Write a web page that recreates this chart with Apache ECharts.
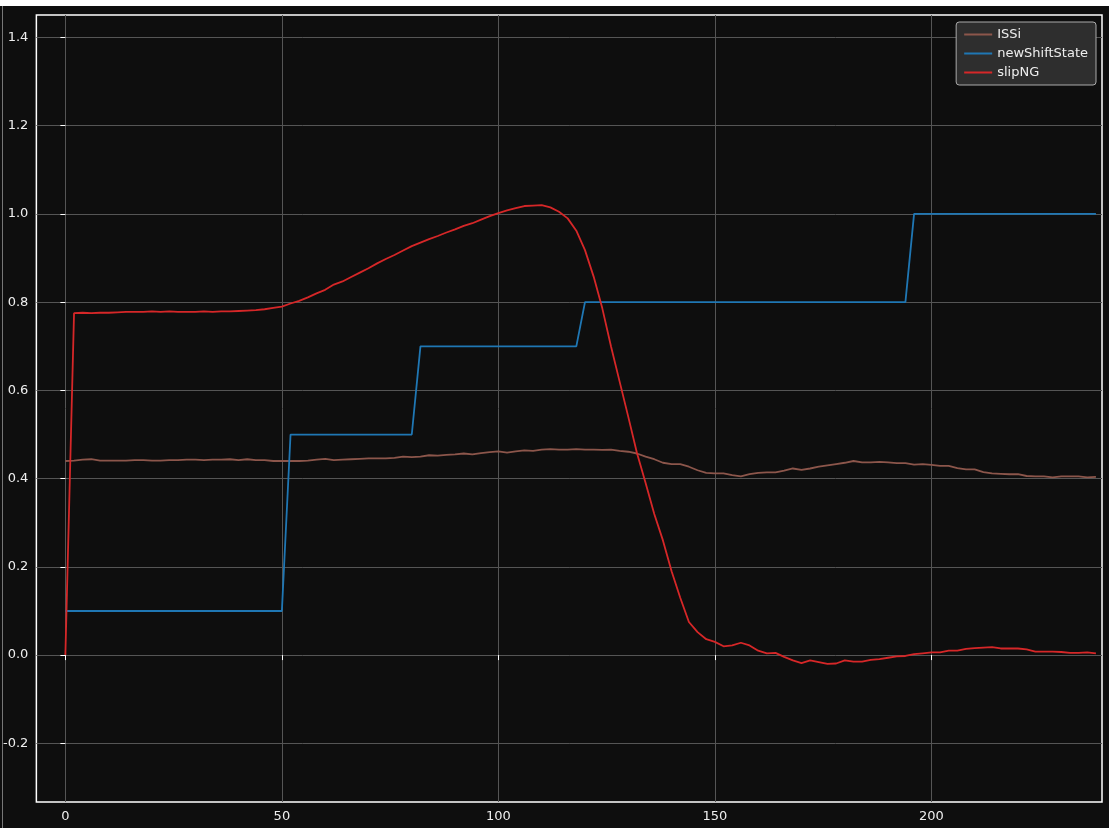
<!DOCTYPE html>
<html><head><meta charset="utf-8">
<script src="https://cdn.jsdelivr.net/npm/echarts@6/dist/echarts.min.js"></script>
<style>
html,body{margin:0;padding:0;background:#0e0e0e;width:1109px;height:828px;overflow:hidden}
#top{position:absolute;left:0;top:0;width:1109px;height:6px;background:#fff}
#side{position:absolute;left:2px;top:6px;width:1px;height:822px;background:#777}
#c{position:absolute;left:0;top:0;width:1109px;height:828px}
</style></head><body>
<div id="c"></div><div id="top"></div><div id="side"></div>
<script>
const xs=[0,2,4,6,8,10,12,14,16,18,20,22,24,26,28,30,32,34,36,38,40,42,44,46,48,50,52,54,56,58,60,62,64,66,68,70,72,74,76,78,80,82,84,86,88,90,92,94,96,98,100,102,104,106,108,110,112,114,116,118,120,122,124,126,128,130,132,134,136,138,140,142,144,146,148,150,152,154,156,158,160,162,164,166,168,170,172,174,176,178,180,182,184,186,188,190,192,194,196,198,200,202,204,206,208,210,212,214,216,218,220,222,224,226,228,230,232,234,236,238];
const issi=[0.440,0.441,0.443,0.444,0.441,0.441,0.441,0.441,0.442,0.442,0.441,0.441,0.442,0.442,0.443,0.443,0.442,0.443,0.443,0.444,0.442,0.444,0.442,0.442,0.440,0.440,0.440,0.440,0.441,0.443,0.445,0.442,0.443,0.444,0.445,0.446,0.446,0.446,0.447,0.450,0.449,0.450,0.453,0.452,0.454,0.455,0.457,0.455,0.458,0.460,0.462,0.459,0.462,0.464,0.463,0.466,0.467,0.466,0.466,0.467,0.466,0.466,0.465,0.466,0.463,0.461,0.457,0.450,0.444,0.436,0.433,0.433,0.427,0.419,0.413,0.412,0.412,0.408,0.405,0.410,0.413,0.414,0.414,0.418,0.423,0.420,0.423,0.427,0.430,0.433,0.436,0.440,0.437,0.437,0.438,0.437,0.435,0.435,0.432,0.433,0.431,0.429,0.429,0.424,0.421,0.421,0.415,0.412,0.411,0.410,0.410,0.406,0.405,0.405,0.403,0.405,0.405,0.405,0.403,0.404];
const shift=[0.1,0.1,0.1,0.1,0.1,0.1,0.1,0.1,0.1,0.1,0.1,0.1,0.1,0.1,0.1,0.1,0.1,0.1,0.1,0.1,0.1,0.1,0.1,0.1,0.1,0.1,0.5,0.5,0.5,0.5,0.5,0.5,0.5,0.5,0.5,0.5,0.5,0.5,0.5,0.5,0.5,0.7,0.7,0.7,0.7,0.7,0.7,0.7,0.7,0.7,0.7,0.7,0.7,0.7,0.7,0.7,0.7,0.7,0.7,0.7,0.8,0.8,0.8,0.8,0.8,0.8,0.8,0.8,0.8,0.8,0.8,0.8,0.8,0.8,0.8,0.8,0.8,0.8,0.8,0.8,0.8,0.8,0.8,0.8,0.8,0.8,0.8,0.8,0.8,0.8,0.8,0.8,0.8,0.8,0.8,0.8,0.8,0.8,1,1,1,1,1,1,1,1,1,1,1,1,1,1,1,1,1,1,1,1,1,1];
const slip=[0,0.775,0.776,0.775,0.776,0.776,0.777,0.778,0.778,0.778,0.779,0.778,0.779,0.778,0.778,0.778,0.779,0.778,0.779,0.779,0.780,0.781,0.782,0.784,0.787,0.790,0.797,0.803,0.811,0.820,0.828,0.840,0.847,0.857,0.867,0.877,0.888,0.898,0.907,0.917,0.927,0.935,0.943,0.950,0.958,0.965,0.973,0.979,0.987,0.995,1.002,1.008,1.013,1.018,1.019,1.020,1.015,1.005,0.990,0.962,0.918,0.858,0.786,0.700,0.620,0.540,0.458,0.390,0.320,0.260,0.190,0.130,0.075,0.052,0.036,0.030,0.020,0.022,0.028,0.022,0.010,0.004,0.005,-0.004,-0.012,-0.018,-0.012,-0.016,-0.020,-0.019,-0.012,-0.015,-0.015,-0.011,-0.009,-0.006,-0.003,-0.002,0.002,0.004,0.006,0.006,0.010,0.010,0.014,0.016,0.017,0.018,0.015,0.015,0.015,0.013,0.008,0.008,0.008,0.007,0.005,0.005,0.006,0.004];
const xTicks=[0,50,100,150,200];
const yTicks=[-0.2,0,0.2,0.4,0.6,0.8,1.0,1.2,1.4];
const names=['ISSi','newShiftState','slipNG'];
const colors=['#8c564b','#1f77b4','#d62728'];
const pair=a=>xs.map((x,i)=>[x,a[i]]);
const chart=echarts.init(document.getElementById('c'));
chart.setOption({
 backgroundColor:'#0e0e0e',animation:false,
 grid:{left:34,top:15,right:7,bottom:26,show:true,borderColor:'#fff',borderWidth:1.5},
 legend:{right:13,top:22,orient:'vertical',itemWidth:28,itemHeight:2,itemGap:6,padding:[6,8,6,8],
   backgroundColor:'#2e2e2e',borderColor:'#aaa',borderWidth:1,borderRadius:3,icon:'rect',
   textStyle:{color:'#eee',fontSize:13,fontFamily:'DejaVu Sans'},data:names},
 xAxis:{type:'value',min:-6.7,max:239.4,
   axisLabel:{color:'#eee',fontSize:13,fontFamily:'DejaVu Sans',margin:8,customValues:xTicks},
   axisTick:{show:true,inside:false,length:5,lineStyle:{color:'#fff'},customValues:xTicks},axisLine:{show:false},
   splitLine:{show:true,lineStyle:{color:'#555',width:1}}},
 yAxis:{type:'value',min:-0.333,max:1.451,
   axisLabel:{color:'#eee',fontSize:13,fontFamily:'DejaVu Sans',margin:8,
     customValues:yTicks,formatter:v=>v.toFixed(1)},
   axisTick:{show:true,inside:false,length:5,lineStyle:{color:'#fff'},customValues:yTicks},
   axisLine:{show:false},
   splitLine:{show:true,lineStyle:{color:'#555',width:1}}},
 series:[issi,shift,slip].map((a,i)=>({name:names[i],type:'line',data:pair(a),showSymbol:false,
   lineStyle:{color:colors[i],width:1.8},itemStyle:{color:colors[i]}}))
});
</script></body></html>
